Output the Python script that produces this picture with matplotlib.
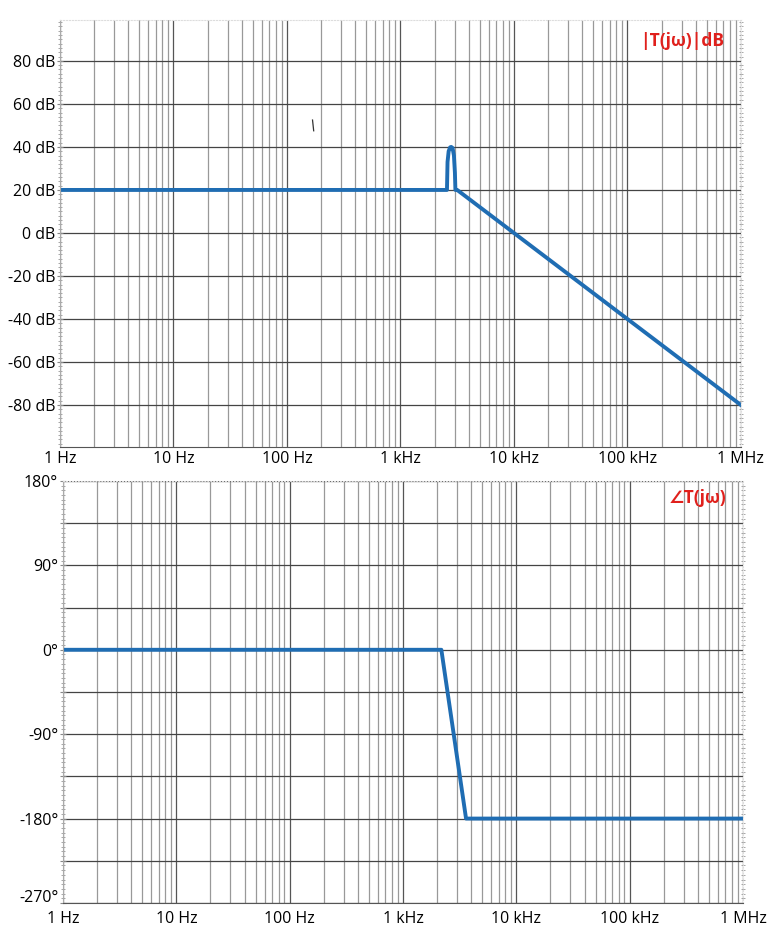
import numpy as np
import matplotlib
matplotlib.use("Agg")
import matplotlib.pyplot as plt
import matplotlib.transforms as mtransforms
from matplotlib.ticker import FixedLocator, MultipleLocator, LogLocator, NullFormatter

# data
freq_ticks = [1, 10, 100, 1e3, 1e4, 1e5, 1e6]
freq_labels = ['1 Hz', '10 Hz', '100 Hz', '1 kHz', '10 kHz', '100 kHz', '1 MHz']

mag_f = [1, 2570, 2600, 2660, 2740, 2800, 2880, 2960, 3020, 3050, 3160, 1e6]
mag_db = [20, 20, 33, 38, 39.8, 40, 39.5, 36, 28, 20, 20, -80]

ph_f = [1, 2180, 3600, 1e6]
ph_deg = [0, 0, -180, -180]

db_ticks = [-80, -60, -40, -20, 0, 20, 40, 60, 80]
deg_ticks = [-270, -225, -180, -135, -90, -45, 0, 45, 90, 135, 180]
deg_labels = ['-270°', '', '-180°', '', '-90°', '', '0°', '', '90°', '', '180°']

stray_f = [168, 172]
stray_db = [52.5, 47.5]

blue = '#1f6db3'
red = '#e0201c'

plt.rcParams['font.family'] = ['Open Sans', 'DejaVu Sans']

fig = plt.figure(figsize=(7.75, 9.4), dpi=100)
ax1 = fig.add_axes([0.0774, 0.5245, 0.8786, 0.4542])
ax2 = fig.add_axes([0.0813, 0.0394, 0.8774, 0.4489])


def style(ax):
    ax.set_xscale('log')
    ax.set_xlim(1, 1e6)
    ax.xaxis.set_major_locator(FixedLocator(freq_ticks))
    ax.set_xticklabels(freq_labels)
    ax.xaxis.set_minor_locator(LogLocator(base=10, subs=np.arange(2, 10)))
    ax.xaxis.set_minor_formatter(NullFormatter())
    ax.grid(True, which='major', axis='x', color='#555555', lw=0.9)
    ax.grid(True, which='minor', axis='x', color='#999999', lw=0.9)
    ax.grid(True, which='major', axis='y', color='#444444', lw=0.9)
    ax.tick_params(axis='x', which='both', length=0, labelsize=11.5, pad=3)
    ax.tick_params(axis='y', which='major', length=5, direction='inout',
                   color='#888888', labelsize=11.5, pad=1)
    ax.tick_params(axis='y', which='minor', length=3, direction='inout',
                   color='#999999', right=True)
    for s in ['top', 'right']:
        ax.spines[s].set_color('#dddddd')
        ax.spines[s].set_linestyle(':')
    ax.spines['left'].set_color('#aaaaaa')
    ax.spines['bottom'].set_color('#555555')
    ax.set_axisbelow(True)


style(ax1)
ax1.set_ylim(-99.5, 99)
ax1.yaxis.set_major_locator(FixedLocator(db_ticks))
ax1.set_yticklabels([f'{v} dB' for v in db_ticks])
ax1.yaxis.set_minor_locator(MultipleLocator(2))
ax1.plot(mag_f, mag_db, color=blue, lw=2.8, solid_joinstyle='round')
ax1.plot(stray_f, stray_db, color='#333333', lw=0.9)
ax1.text(0.975, 0.95, '|T(jω)|dB', transform=ax1.transAxes, ha='right',
         va='center', color=red, fontsize=12.5, fontweight='bold')

style(ax2)
ax2.set_ylim(-270, 180)
ax2.yaxis.set_major_locator(FixedLocator(deg_ticks))
ax2.set_yticklabels(deg_labels)
ax2.yaxis.set_minor_locator(MultipleLocator(5))
ax2.tick_params(axis='x', pad=6)
ax2.plot(ph_f, ph_deg, color=blue, lw=2.8)
ax2.text(0.975, 0.96, '∠T(jω)', transform=ax2.transAxes, ha='right',
         va='center', color=red, fontsize=12.5, fontweight='bold')

# lift the bottom phase label a little so it clears "1 Hz"
lbl = ax2.get_yticklabels()[0]
lbl.set_transform(lbl.get_transform() +
                  mtransforms.ScaledTranslation(0, 5 / 72, fig.dpi_scale_trans))

fig.savefig('out.png', dpi=100)
